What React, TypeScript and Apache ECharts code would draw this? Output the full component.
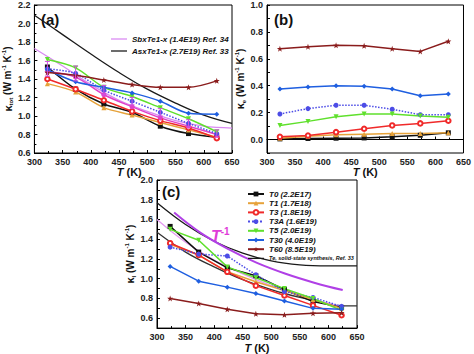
import React, { useEffect, useRef } from "react";
import * as echarts from "echarts";

// Temperatures (K)
const T = [323, 373, 423, 473, 523, 573, 623];
const refT = [300, 350, 400, 450, 500, 550, 600, 650];

// (a) total thermal conductivity
const aT0 = [1.53, 1.29, 1.13, 1.04, 0.89, 0.81, 0.77];
const aT1 = [1.35, 1.26, 1.09, 1.01, 0.93, 0.85, 0.77];
const aT3 = [1.40, 1.29, 1.17, 1.05, 0.95, 0.87, 0.76];
const aT3A = [1.51, 1.46, 1.28, 1.16, 1.04, 0.92, 0.81];
const aT3Aavg = [1.48, 1.42, 1.23, 1.10, 0.98, 0.89, 0.80];
const aT3Aerr = [0.08, 0.08, 0.05, 0.04, 0.04, 0.04, 0.04];
const aT5 = [1.61, 1.52, 1.31, 1.21, 1.09, 0.97, 0.83];
const aT30 = [1.50, 1.37, 1.31, 1.25, 1.16, 1.03, 1.02];
const aT60 = [1.47, 1.44, 1.39, 1.34, 1.31, 1.31, 1.38];
const aSbRef = [1.73, 1.54, 1.34, 1.17, 1.05, 0.95, 0.89, 0.87];
const aAsRef = [2.09, 1.88, 1.67, 1.47, 1.29, 1.14, 1.01, 0.92];

// (b) electronic thermal conductivity
const bT0 = [0.005, 0.008, 0.01, 0.012, 0.02, 0.032, 0.05];
const bT1 = [0.01, 0.025, 0.035, 0.04, 0.045, 0.045, 0.05];
const bT3 = [0.02, 0.03, 0.055, 0.08, 0.105, 0.12, 0.14];
const bT3A = [0.19, 0.23, 0.255, 0.255, 0.225, 0.185, 0.185];
const bT5 = [0.105, 0.135, 0.17, 0.19, 0.19, 0.175, 0.165];
const bT30 = [0.375, 0.39, 0.40, 0.397, 0.375, 0.325, 0.338];
const bT60 = [0.675, 0.69, 0.70, 0.697, 0.675, 0.655, 0.73];

// (c) lattice thermal conductivity
const cT0 = [1.53, 1.27, 1.11, 1.03, 0.89, 0.77, 0.71];
const cT1 = [1.35, 1.24, 1.07, 0.97, 0.88, 0.79, 0.70];
const cT3 = [1.36, 1.24, 1.07, 0.93, 0.83, 0.73, 0.63];
const cT3A = [1.32, 1.25, 1.23, 1.04, 0.87, 0.81, 0.72];
const cT5 = [1.50, 1.39, 1.12, 1.01, 0.90, 0.80, 0.68];
const cT30 = [1.125, 0.975, 0.915, 0.85, 0.775, 0.70, 0.69];
const cT60 = [0.80, 0.75, 0.69, 0.645, 0.635, 0.65, 0.655];
const cTeRef = [1.77, 1.55, 1.38, 1.26, 1.18, 1.14, 1.13, 1.13];
const invT_T = [330, 375, 425, 475, 525, 575, 625];
const invT_V = [1.67, 1.47, 1.30, 1.16, 1.05, 0.96, 0.885];
const cLowT = [300, 350, 400, 450, 500, 550, 600, 620, 650];
const cLowV = [1.47, 1.27, 1.12, 0.99, 0.89, 0.81, 0.745, 0.725, 0.725];
const cPinkT = [300, 350, 400, 450, 500, 550, 600, 625];
const cPinkV = [1.60, 1.37, 1.19, 1.05, 0.93, 0.83, 0.75, 0.72];

const NAMES = {
  T0: "T0 (2.2E17)",
  T1: "T1 (1.7E18)",
  T3: "T3 (1.8E19)",
  T3A: "T3A (1.6E19)",
  T5: "T5 (2.0E19)",
  T30: "T30 (4.0E19)",
  T60: "T60 (8.5E19)",
};
const SB = "SbxTe1-x (1.4E19) Ref. 34";
const AS = "AsxTe1-x (2.7E19) Ref. 33";
const TE = "Te, solid-state synthesis, Ref. 33";

const COL = {
  T0: "#111111",
  T1: "#e6a23a",
  T3: "#f02a2a",
  T3A: "#4c4ce6",
  T5: "#5fe02c",
  T30: "#1f5fe0",
  T60: "#8a1c1c",
};
const STAR = "path://M5,0 L6.2,3.6 L10,3.6 L7,5.9 L8.1,9.5 L5,7.3 L1.9,9.5 L3,5.9 L0,3.6 L3.8,3.6 Z";
const LINE_ICON = "path://M0,0 L20,0 L20,1.6 L0,1.6 Z";
const SYM = {
  T0: "rect",
  T1: "triangle",
  T3: "emptyCircle",
  T3A: "circle",
  T5: "triangle",
  T30: "diamond",
  T60: STAR,
};

const FONT = "Liberation Sans, Arial, sans-serif";

const pairs = (xs: number[], ys: number[]) => ys.map((v, i) => [xs[i], v]);

function sample(key: string, ys: number[], idx: number, smooth: boolean | number) {
  return {
    type: "line",
    name: NAMES[key],
    xAxisIndex: idx,
    yAxisIndex: idx,
    data: pairs(T, ys),
    smooth,
    symbol: SYM[key],
    symbolSize: key === "T60" ? 6 : key === "T3" ? 4.5 : 5,
    symbolRotate: key === "T5" ? 180 : 0,
    itemStyle: { color: COL[key], borderWidth: key === "T3" ? 1.2 : 0 },
    lineStyle: { color: COL[key], width: 1.5, type: key === "T3A" ? "dotted" : "solid" },
    z: 3,
  };
}

function refLine(name: string, xs: number[], ys: number[], idx: number, color: string, width = 1.3) {
  return {
    type: "line",
    name,
    xAxisIndex: idx,
    yAxisIndex: idx,
    data: pairs(xs, ys),
    smooth: 0.4,
    showSymbol: false,
    symbol: "none",
    itemStyle: { color },
    lineStyle: { color, width },
    z: 2,
  };
}

function xAx(gridIndex: number, nameGap: number, padRight = 0) {
  return {
    type: "value",
    gridIndex,
    min: 300,
    max: 650,
    interval: 50,
    axisLine: { lineStyle: { color: "#000", width: 1 } },
    axisTick: { inside: true, length: 3, lineStyle: { color: "#000" } },
    minorTick: { show: true, splitNumber: 2, length: 2, lineStyle: { color: "#000" } },
    splitLine: { show: false },
    axisLabel: { fontSize: 9, fontWeight: "bold", color: "#222", margin: 4, fontFamily: FONT },
    name: "{i|T} (K)",
    nameLocation: "middle",
    nameGap,
    nameTextStyle: {
      fontSize: 11,
      fontWeight: "bold",
      color: "#111",
      fontFamily: FONT,
      padding: [0, padRight, 0, 0],
      rich: { i: { fontStyle: "italic", fontSize: 11, fontWeight: "bold", fontFamily: FONT, color: "#111" } },
    },
  };
}

function yAx(gridIndex: number, min: number, max: number, interval: number, sub: string, nameGap: number, everyOther: boolean) {
  return {
    type: "value",
    gridIndex,
    min,
    max,
    interval,
    axisLine: { lineStyle: { color: "#000", width: 1 } },
    axisTick: { inside: true, length: 3, lineStyle: { color: "#000" } },
    minorTick: { show: !everyOther, splitNumber: 2, length: 2, lineStyle: { color: "#000" } },
    splitLine: { show: false },
    axisLabel: {
      fontSize: 9,
      fontWeight: "bold",
      color: "#222",
      margin: 4,
      fontFamily: FONT,
      formatter: (v: number) => {
        if (!everyOther) return v.toFixed(1);
        const k = Math.round(v * 10);
        return k % 2 === 0 && k >= 0 ? (k / 10).toFixed(1) : "";
      },
    },
    name: `{k|κ}{s|${sub}}{n| (W m}{p|-1}{n| K}{p|-1}{n|)}`,
    nameLocation: "middle",
    nameGap,
    nameRotate: 90,
    nameTextStyle: {
      fontFamily: FONT,
      color: "#111",
      rich: {
        k: { fontSize: 11, fontWeight: "bold", fontFamily: FONT, lineHeight: 13, verticalAlign: "middle", color: "#111" },
        n: { fontSize: 10, fontWeight: "bold", fontFamily: FONT, lineHeight: 13, verticalAlign: "middle", color: "#111" },
        s: { fontSize: 6, fontWeight: "bold", fontFamily: FONT, lineHeight: 7, verticalAlign: "bottom", color: "#111" },
        p: { fontSize: 6, fontWeight: "bold", fontFamily: FONT, lineHeight: 7, verticalAlign: "top", color: "#111" },
      },
    },
  };
}

export default function App() {
  const ref = useRef<HTMLDivElement>(null);
  useEffect(() => {
    if (!ref.current) return;
    const chart = echarts.init(ref.current, null, { renderer: "svg" });
    const legendText = { fontSize: 8, lineHeight: 8, fontStyle: "italic", fontWeight: "bold", color: "#111", fontFamily: FONT };
    const errData = T.map((t, i) => [t, aT3A[i] - aT3Aerr[i], aT3A[i] + aT3Aerr[i]]);
    const option = {
      animation: false,
      backgroundColor: "#fff",
      grid: [
        { left: 32, top: 5, width: 200, height: 148, show: true, borderColor: "#000", borderWidth: 1, containLabel: false },
        { left: 267, top: 5, width: 199, height: 148, show: true, borderColor: "#000", borderWidth: 1, containLabel: false },
        { left: 157, top: 180, width: 200, height: 150, show: true, borderColor: "#000", borderWidth: 1, containLabel: false },
      ],
      xAxis: [xAx(0, 11, 8), xAx(1, 11), xAx(2, 11)],
      yAxis: [
        yAx(0, 0.6, 2.2, 0.2, "tot", 17, false),
        yAx(1, -0.1, 1.0, 0.1, "e", 17, true),
        yAx(2, 0.5, 2.0, 0.1, "l", 16, true),
      ],
      legend: [
        {
          orient: "vertical",
          left: 106,
          top: 30,
          itemWidth: 16,
          itemHeight: 6,
          itemGap: 4,
          data: [
            { name: SB, icon: LINE_ICON },
            { name: AS, icon: LINE_ICON },
          ],
          textStyle: legendText,
          selectedMode: false,
        },
        {
          orient: "vertical",
          left: 242,
          top: 185,
          itemWidth: 16,
          itemHeight: 6,
          itemGap: 1.2,
          data: [
            NAMES.T0, NAMES.T1, NAMES.T3, NAMES.T3A, NAMES.T5, NAMES.T30, NAMES.T60,
            { name: TE, icon: LINE_ICON, textStyle: { fontSize: 5.5 } },
          ],
          textStyle: legendText,
          selectedMode: false,
        },
      ],
      graphic: [
        { type: "text", left: 41, top: 12, style: { text: "(a)", font: `bold 15px ${FONT}`, fill: "#111" } },
        { type: "text", left: 274, top: 12, style: { text: "(b)", font: `bold 15px ${FONT}`, fill: "#111" } },
        { type: "text", left: 162, top: 184, style: { text: "(c)", font: `bold 15px ${FONT}`, fill: "#111" } },
        {
          type: "text",
          left: 211,
          top: 226,
          style: {
            text: "{t|T}{s|-1}",
            rich: {
              t: { fontSize: 16, fontStyle: "italic", fontWeight: "bold", fill: "#e03cd8", fontFamily: FONT, lineHeight: 18, verticalAlign: "bottom" },
              s: { fontSize: 10, fontWeight: "bold", fill: "#e03cd8", fontFamily: FONT, lineHeight: 10, verticalAlign: "top" },
            },
          },
        },
      ],
      series: [
        // (a)
        refLine(SB, refT, aSbRef, 0, "#d98af2"),
        refLine(AS, refT, aAsRef, 0, "#1a1a1a"),
        sample("T0", aT0, 0, 0.3),
        sample("T1", aT1, 0, 0.3),
        sample("T3", aT3, 0, 0.3),
        {
          ...sample("T3A", aT3Aavg, 0, 0.3),
          name: "T3A avg",
          symbol: "circle",
          itemStyle: { color: "#e040c8" },
          lineStyle: { color: "#e040c8", width: 1.5, type: "solid" },
        },
        sample("T3A", aT3A, 0, 0.3),
        {
          type: "custom",
          name: "T3A error",
          xAxisIndex: 0,
          yAxisIndex: 0,
          data: errData,
          z: 4,
          renderItem: (params: any, api: any) => {
            const x = api.value(0);
            const lo = api.coord([x, api.value(1)]);
            const hi = api.coord([x, api.value(2)]);
            const st = { stroke: "#d050e0", lineWidth: 1 };
            return {
              type: "group",
              children: [
                { type: "line", shape: { x1: lo[0], y1: lo[1], x2: hi[0], y2: hi[1] }, style: st },
                { type: "line", shape: { x1: lo[0] - 2.5, y1: lo[1], x2: lo[0] + 2.5, y2: lo[1] }, style: st },
                { type: "line", shape: { x1: hi[0] - 2.5, y1: hi[1], x2: hi[0] + 2.5, y2: hi[1] }, style: st },
              ],
            };
          },
        },
        sample("T5", aT5, 0, 0.3),
        sample("T30", aT30, 0, 0.3),
        sample("T60", aT60, 0, 0.3),
        // (b)
        sample("T0", bT0, 1, false),
        sample("T1", bT1, 1, false),
        sample("T3", bT3, 1, false),
        sample("T3A", bT3A, 1, false),
        sample("T5", bT5, 1, false),
        sample("T30", bT30, 1, false),
        sample("T60", bT60, 1, false),
        // (c)
        refLine(TE, refT, cTeRef, 2, "#1a1a1a"),
        refLine("lower fit", cLowT, cLowV, 2, "#333333"),
        refLine("Sb fit", cPinkT, cPinkV, 2, "#e39af0"),
        refLine("T^-1", invT_T, invT_V, 2, "#b040e6", 2),
        sample("T0", cT0, 2, false),
        sample("T1", cT1, 2, false),
        sample("T3", cT3, 2, false),
        sample("T3A", cT3A, 2, false),
        sample("T5", cT5, 2, false),
        sample("T30", cT30, 2, false),
        sample("T60", cT60, 2, false),
      ],
    };
    chart.setOption(option);
    return () => chart.dispose();
  }, []);
  return <div ref={ref} style={{ width: 474, height: 354, position: "absolute", left: 0, top: 0 }} />;
}
